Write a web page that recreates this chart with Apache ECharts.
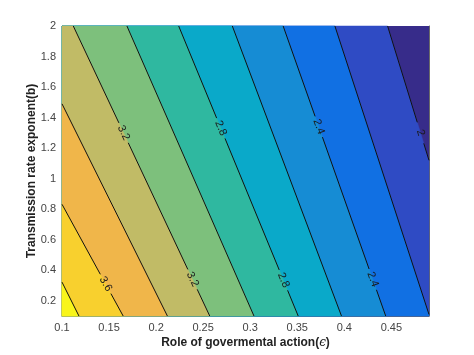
<!DOCTYPE html>
<html><head><meta charset="utf-8">
<script src="https://cdn.jsdelivr.net/npm/echarts@6/dist/echarts.min.js"></script>
<style>html,body{margin:0;padding:0;background:#fff}#c{width:474px;height:355px}</style>
</head><body><div id="c"></div>
<script>
const xMin = 0.1, xMax = 0.49, yMin = 0.1, yMax = 2;
// contour levels and each contour line's end points
const levels     = [2.0, 2.2, 2.4, 2.6, 2.8, 3.0, 3.2, 3.4, 3.6, 3.8];
const lineStartX = [0.446, 0.390, 0.335, 0.281, 0.224, 0.169, 0.112, 0.1, 0.1, 0.1];
const lineStartY = [2, 2, 2, 2, 2, 2, 2, 1.49, 0.832, 0.322];
const lineEndX   = [0.49, 0.49, 0.444, 0.397, 0.351, 0.304, 0.257, 0.212, 0.165, 0.118];
const lineEndY   = [1.12, 0.11, 0.1, 0.1, 0.1, 0.1, 0.1, 0.1, 0.1, 0.1];
// y positions of inline contour labels
const labelY     = [[1.30], [], [1.34, 0.34], [], [1.33, 0.335], [], [1.30, 0.34], [], [0.31], []];
// band colours: below 2.0, 2.0-2.2, ..., above 3.8
const bandColors = ['#372c8a', '#2f4bc4', '#1170e3', '#168cd4', '#0aa9c9', '#2fb8a0', '#7dc07c', '#c1bb66', '#f0b64a', '#f8d02e', '#f9f51a'];
const xTicks = [0.1, 0.15, 0.2, 0.25, 0.3, 0.35, 0.4, 0.45];
const yTicks = [0.2, 0.4, 0.6, 0.8, 1, 1.2, 1.4, 1.6, 1.8, 2];

const rows = levels.map((l, i) => [lineStartX[i], lineStartY[i], lineEndX[i], lineEndY[i], l, i]);

function fmt(v) { return String(+v.toFixed(2)); }

function renderFill(params, api) {
  const i = api.value(5);
  const children = [];
  if (params.dataIndex === 0) {
    const a = api.coord([xMin, yMax]), b = api.coord([xMax, yMin]);
    children.push({type: 'rect', shape: {x: a[0], y: a[1], width: b[0] - a[0], height: b[1] - a[1]},
      style: {fill: bandColors[0]}});
  }
  const sx = api.value(0), sy = api.value(1), ex = api.value(2), ey = api.value(3);
  const pts = [[sx, sy]];
  if (sy >= yMax) pts.push([xMin, yMax]);
  pts.push([xMin, yMin]);
  if (ex >= xMax && ey > yMin) pts.push([xMax, yMin]);
  pts.push([ex, ey]);
  children.push({type: 'polygon', shape: {points: pts.map(p => api.coord(p))},
    style: {fill: bandColors[i + 1], stroke: bandColors[i + 1], lineWidth: 0.5}});
  return {type: 'group', children};
}

function renderLine(params, api) {
  const i = api.value(5);
  const sx = api.value(0), sy = api.value(1), ex = api.value(2), ey = api.value(3);
  const p1 = api.coord([sx, sy]), p2 = api.coord([ex, ey]);
  const dx = p2[0] - p1[0], dy = p2[1] - p1[1];
  const len = Math.sqrt(dx * dx + dy * dy);
  const ux = dx / len, uy = dy / len;
  const gap = 11;
  const children = [];
  const cuts = [];
  labelY[i].forEach(ly => {
    const t = (ly - sy) / (ey - sy);
    const lx = sx + t * (ex - sx);
    const c = api.coord([lx, ly]);
    const d = (c[0] - p1[0]) * ux + (c[1] - p1[1]) * uy;
    cuts.push(d);
    children.push({type: 'text', x: c[0], y: c[1], rotation: -Math.atan2(dy, dx),
      style: {text: fmt(api.value(4)), x: 0, y: 0, align: 'center', verticalAlign: 'middle',
        fontSize: 11, fontFamily: 'Liberation Sans, Arial, sans-serif', fill: '#1a1a1a'}});
  });
  cuts.sort((a, b) => a - b);
  let start = 0;
  const segs = [];
  cuts.forEach(d => { segs.push([start, d - gap]); start = d + gap; });
  segs.push([start, len]);
  segs.forEach(s => {
    if (s[1] <= s[0]) return;
    children.push({type: 'line', shape: {x1: p1[0] + ux * s[0], y1: p1[1] + uy * s[0], x2: p1[0] + ux * s[1], y2: p1[1] + uy * s[1]},
      style: {stroke: '#111', lineWidth: 1}});
  });
  return {type: 'group', children};
}

const axisCommon = {
  axisLine: {show: true, onZero: false, lineStyle: {color: '#6a6a6a', width: 1}},
  splitLine: {show: false}
};
const tickStyle = {show: true, inside: true, length: 4, lineStyle: {color: '#555', width: 1}};
const labelStyle = {color: '#444', fontSize: 11, fontFamily: 'Liberation Sans, Arial, sans-serif'};

const chart = echarts.init(document.getElementById('c'), null, {renderer: 'canvas'});
chart.setOption({
  animation: false,
  backgroundColor: '#fff',
  grid: {left: 62, right: 45, top: 26, bottom: 39},
  xAxis: [
    Object.assign({type: 'value', min: xMin, max: xMax, position: 'bottom',
      axisTick: Object.assign({customValues: xTicks}, tickStyle),
      axisLabel: Object.assign({customValues: xTicks, formatter: fmt, margin: 6}, labelStyle),
      name: 'Role of govermental action({e|ϵ})', nameLocation: 'middle', nameGap: 21, nameMoveOverlap: false,
      nameTextStyle: {fontSize: 12, fontWeight: 'bold', color: '#222', fontFamily: 'Liberation Sans, Arial, sans-serif',
        rich: {e: {fontSize: 12, fontStyle: 'italic', fontWeight: 'normal', fontFamily: 'DejaVu Serif, serif', color: '#222'}}}
    }, axisCommon),
    Object.assign({type: 'value', min: xMin, max: xMax, position: 'top',
      axisTick: Object.assign({customValues: xTicks}, tickStyle), axisLabel: {show: false}}, axisCommon)
  ],
  yAxis: [
    Object.assign({type: 'value', min: yMin, max: yMax, position: 'left',
      axisTick: Object.assign({customValues: yTicks}, tickStyle),
      axisLabel: Object.assign({customValues: yTicks, formatter: fmt, margin: 6}, labelStyle),
      name: 'Transmission rate exponent(b)', nameLocation: 'middle', nameGap: 24, nameMoveOverlap: false,
      nameTextStyle: {fontSize: 12, fontWeight: 'bold', color: '#222', fontFamily: 'Liberation Sans, Arial, sans-serif'}
    }, axisCommon),
    Object.assign({type: 'value', min: yMin, max: yMax, position: 'right',
      axisTick: Object.assign({customValues: yTicks}, tickStyle), axisLabel: {show: false}}, axisCommon)
  ],
  series: [
    {type: 'custom', renderItem: renderFill, data: rows, encode: {x: [0, 2], y: [1, 3]}, z: 1, silent: true},
    {type: 'custom', renderItem: renderLine, data: rows, encode: {x: [0, 2], y: [1, 3]}, z: 2, silent: true}
  ]
});
</script>
</body></html>
